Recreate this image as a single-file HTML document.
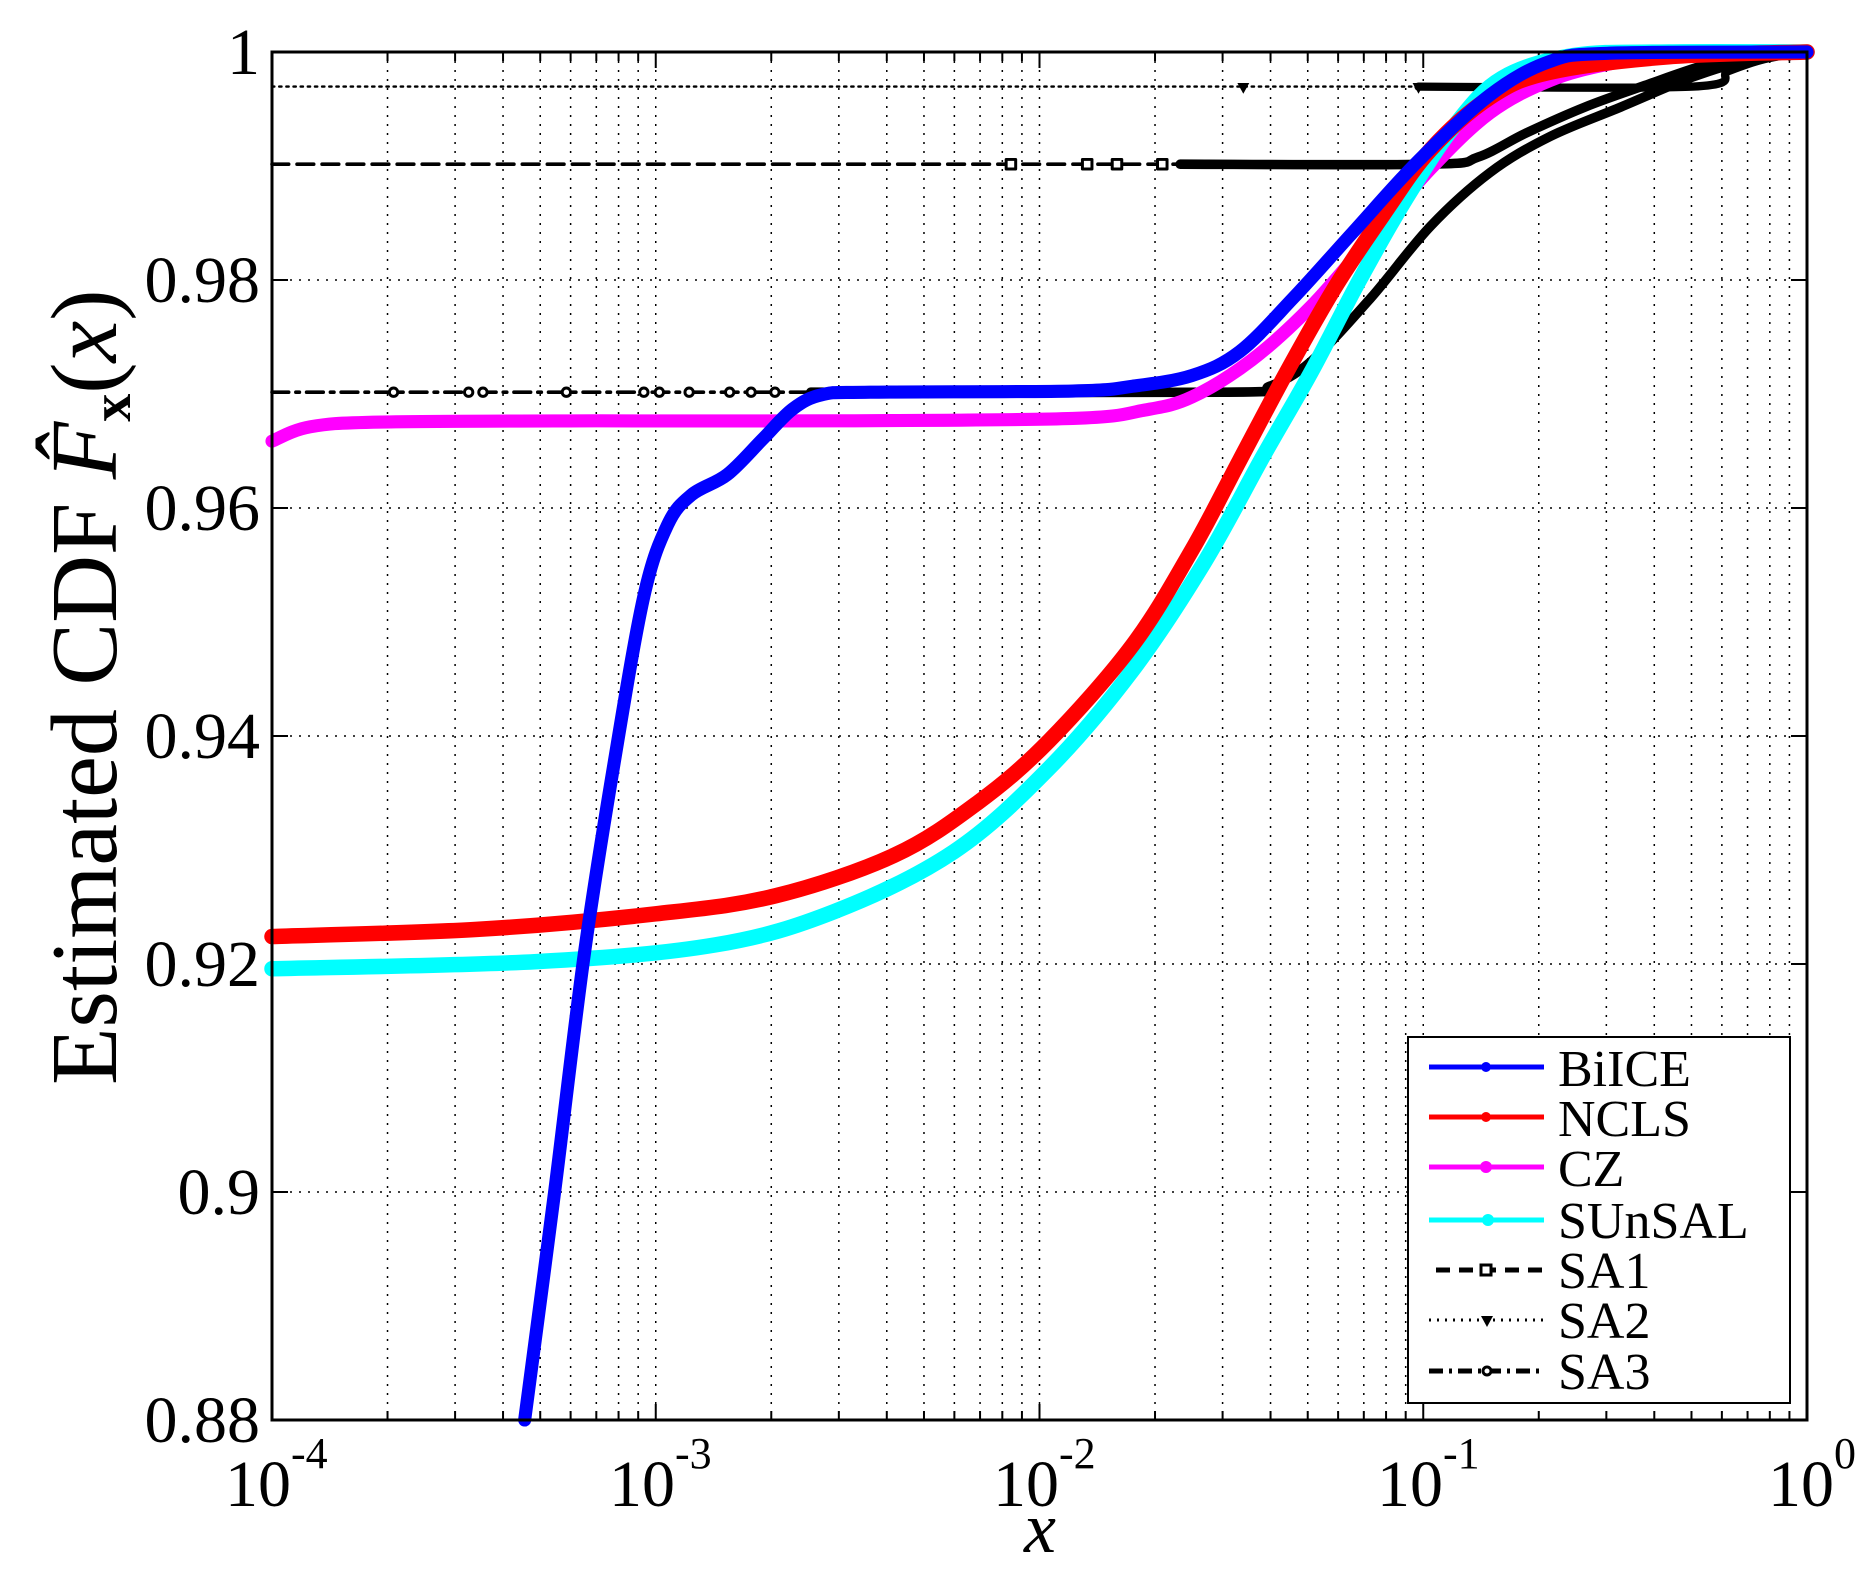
<!DOCTYPE html>
<html><head><meta charset="utf-8"><style>
html,body{margin:0;padding:0;background:#fff;}
svg{display:block;font-family:"Liberation Serif",serif;}
</style></head><body>
<svg id="s" width="1870" height="1593" viewBox="0 0 1870 1593" xmlns="http://www.w3.org/2000/svg">
<rect width="1870" height="1593" fill="#fff"/>
<g id="grid" stroke="#000" stroke-width="1.5" stroke-dasharray="2,7" fill="none"></g>
<g id="ticks" stroke="#000" stroke-width="2" fill="none"></g>
<g transform="translate(272,52) scale(1.1918,1.1937) translate(-228,-44)" fill="none" stroke-linejoin="round" stroke-linecap="round">
<path d="M228,73 L1190,73" stroke="#000" stroke-width="2" stroke-dasharray="2,4"/>
<path class="sm" data-p="1190,73 1420,73 1450,60 1480,50 1516,44" stroke="#000" stroke-width="7"/>
<path d="M228,138 L990,138" stroke="#000" stroke-width="3" stroke-dasharray="14,7"/>
<path class="sm" data-p="990,138 1200,138 1240,132 1280,112 1330,90 1380,72 1430,55 1470,46 1516,44" stroke="#000" stroke-width="8"/>
<path d="M228,329 L680,329" stroke="#000" stroke-width="3" stroke-dasharray="14,6,3,6"/>
<path class="sm" data-p="680,329 1030,329 1065,324 1100,303 1150,250 1200,190 1250,145 1300,115 1360,90 1420,65 1470,50 1516,44" stroke="#000" stroke-width="8"/>
<path class="sm" data-p="228,370 260,358 320,354 500,353 700,353 900,351 960,344 1000,333 1050,302 1100,257 1150,200 1200,142 1250,95 1300,68 1350,54 1400,47 1516,44" stroke="#ff00ff" stroke-width="11"/>
<path class="sm" data-p="228,812 450,806 600,792 700,764 800,714 880,644 950,562 1010,472 1060,382 1100,312 1140,236 1180,166 1220,106 1260,66 1320,47 1400,44 1516,44" stroke="#00ffff" stroke-width="13"/>
<path class="sm" data-p="228,785 400,779 550,766 650,751 750,717 820,673 880,621 950,541 1000,461 1040,386 1080,311 1120,241 1160,181 1200,126 1250,82 1300,61 1400,48 1516,44" stroke="#ff0000" stroke-width="13"/>
<path class="sm" data-p="440,1190 465,1000 490,800 515,640 540,500 560,440 580,415 610,398 640,368 665,343 690,331 730,329 900,328 950,324 1000,315 1040,295 1085,250 1135,195 1190,135 1250,80 1300,52 1350,45 1516,44" stroke="#0000ff" stroke-width="11"/>
<g fill="#fff" stroke="#000" stroke-width="2.5">
<rect x="844" y="134" width="8" height="8"/><rect x="908" y="134" width="8" height="8"/><rect x="933" y="134" width="8" height="8"/><rect x="971" y="134" width="8" height="8"/>
<circle cx="330" cy="329" r="3.5"/><circle cx="393" cy="329" r="3.5"/><circle cx="405" cy="329" r="3.5"/><circle cx="475" cy="329" r="3.5"/><circle cx="540" cy="329" r="3.5"/><circle cx="553" cy="329" r="3.5"/><circle cx="578" cy="329" r="3.5"/><circle cx="612" cy="329" r="3.5"/><circle cx="630" cy="329" r="3.5"/><circle cx="650" cy="329" r="3.5"/>
</g>
<path d="M1038,70 L1048,70 L1043,79 Z M1185,70 L1195,70 L1190,79 Z" fill="#000"/>
</g>
<rect x="272" y="52" width="1535" height="1368" fill="none" stroke="#000" stroke-width="3"/>
<rect x="1408" y="1037" width="382" height="366" fill="#fff" stroke="#000" stroke-width="2"/>
<g stroke-width="5" fill="none">
<line x1="1429" y1="1067" x2="1544" y2="1067" stroke="#0000ff"/>
<line x1="1429" y1="1117" x2="1544" y2="1117" stroke="#ff0000"/>
<line x1="1429" y1="1167" x2="1544" y2="1167" stroke="#ff00ff"/>
<line x1="1429" y1="1220" x2="1544" y2="1220" stroke="#00ffff"/>
<line x1="1436" y1="1270" x2="1544" y2="1270" stroke="#000" stroke-dasharray="14,9"/>
<line x1="1429" y1="1320" x2="1544" y2="1320" stroke="#000" stroke-width="3" stroke-dasharray="2,6"/>
<line x1="1429" y1="1371" x2="1544" y2="1371" stroke="#000" stroke-dasharray="14,6,3,6"/>
</g>
<circle cx="1486" cy="1067" r="5" fill="#0000ff"/><circle cx="1486" cy="1117" r="5" fill="#ff0000"/><circle cx="1486" cy="1167" r="6" fill="#ff00ff"/><circle cx="1488" cy="1220" r="6" fill="#00ffff"/>
<rect x="1481" y="1265" width="10" height="10" fill="#fff" stroke="#000" stroke-width="3"/>
<path d="M1481,1316 L1493,1316 L1487,1327 Z" fill="#000"/>
<circle cx="1487" cy="1371" r="4" fill="#fff" stroke="#000" stroke-width="3"/>
<g font-size="52" fill="#000">
<text x="1558" y="1086">BiICE</text>
<text x="1558" y="1136">NCLS</text>
<text x="1558" y="1186">CZ</text>
<text x="1558" y="1238">SUnSAL</text>
<text x="1558" y="1288">SA1</text>
<text x="1558" y="1338">SA2</text>
<text x="1558" y="1389">SA3</text>
</g>
<g font-size="66" text-anchor="end" fill="#000">
<text x="260" y="1442">0.88</text>
<text x="260" y="1214">0.9</text>
<text x="260" y="986">0.92</text>
<text x="260" y="758">0.94</text>
<text x="260" y="530">0.96</text>
<text x="260" y="302">0.98</text>
<text x="260" y="74">1</text>
</g>
<g font-size="66" fill="#000">
<text x="225" y="1506">10<tspan font-size="44" dy="-38">-4</tspan></text>
<text x="609" y="1506">10<tspan font-size="44" dy="-38">-3</tspan></text>
<text x="993" y="1506">10<tspan font-size="44" dy="-38">-2</tspan></text>
<text x="1377" y="1506">10<tspan font-size="44" dy="-38">-1</tspan></text>
<text x="1768" y="1506">10<tspan font-size="44" dy="-38">0</tspan></text>
</g>
<text x="1040" y="1552" font-size="72" font-style="italic" text-anchor="middle">x</text>
<text transform="translate(116,1085) rotate(-90)" font-size="94">Estimated CDF <tspan font-style="italic">F̂</tspan><tspan font-size="56" dy="14" font-weight="bold">x</tspan><tspan dy="-14">(</tspan><tspan font-style="italic">x</tspan>)</text>
</svg>
<script>
(function(){
var ns="http://www.w3.org/2000/svg",g=document.getElementById("grid"),t=document.getElementById("ticks");
function ln(p,x1,y1,x2,y2){var l=document.createElementNS(ns,"line");l.setAttribute("x1",x1);l.setAttribute("y1",y1);l.setAttribute("x2",x2);l.setAttribute("y2",y2);p.appendChild(l);}
var L=272,R=1807,T=52,B=1420,D=(R-L)/4;
for(var d=0;d<4;d++){for(var k=1;k<=9;k++){var x=L+(d+Math.log10(k))*D;if(k>1||d>0){ln(g,x,T,x,B);}var len=(k==1)?16:9;ln(t,x,B,x,B-len);ln(t,x,T,x,T+len);}}
for(var i=1;i<6;i++){var y=B-i*(B-T)/6;ln(g,L,y,R,y);ln(t,L,y,L+16,y);ln(t,R,y,R-16,y);}
var ps=document.querySelectorAll("path.sm");
for(var j=0;j<ps.length;j++){
 var pts=ps[j].getAttribute("data-p").trim().split(/\s+/).map(function(s){var a=s.split(",");return [+a[0],+a[1]];});
 var d="M"+pts[0][0]+","+pts[0][1];
 for(var n=0;n<pts.length-1;n++){
  var p0=pts[n>0?n-1:n],p1=pts[n],p2=pts[n+1],p3=pts[n+2<pts.length?n+2:n+1];
  var c1x=p1[0]+(p2[0]-p0[0])/6,c1y=p1[1]+(p2[1]-p0[1])/6,c2x=p2[0]-(p3[0]-p1[0])/6,c2y=p2[1]-(p3[1]-p1[1])/6;
  d+=" C"+c1x+","+c1y+" "+c2x+","+c2y+" "+p2[0]+","+p2[1];
 }
 ps[j].setAttribute("d",d);
}
})();
</script>
</body></html>
